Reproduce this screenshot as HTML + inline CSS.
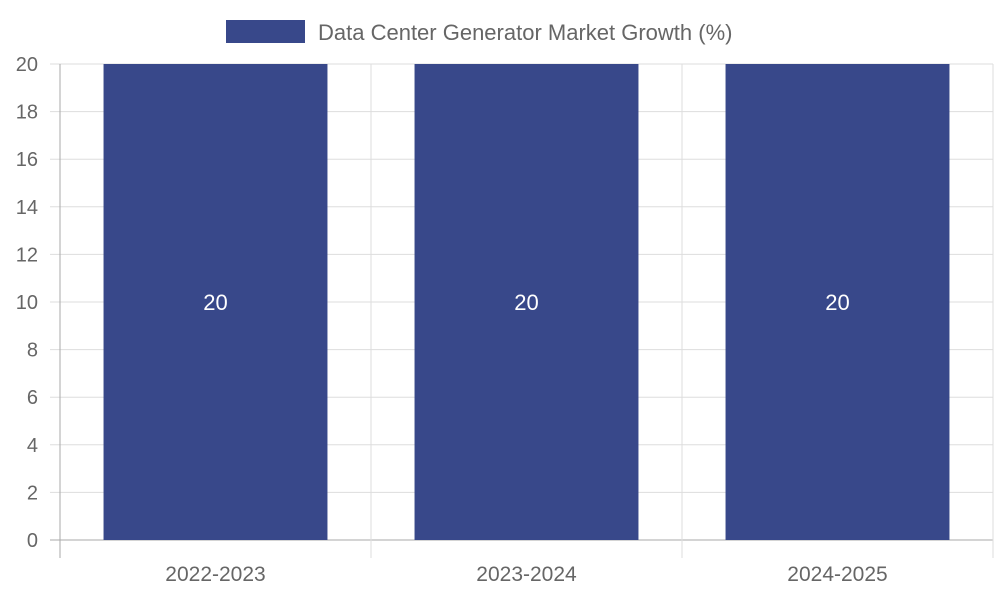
<!DOCTYPE html>
<html><head><meta charset="utf-8"><style>
html,body{margin:0;padding:0;background:#fff;}
svg{display:block;font-family:"Liberation Sans",Arial,sans-serif;}
</style></head><body>
<svg id="chart" width="1000" height="600">
<rect x="226" y="20" width="79" height="23" fill="#38488a"/>
<text x="318" y="40" font-size="22" fill="#666">Data Center Generator Market Growth (%)</text>
<g id="grid"></g><g id="bars"></g><g id="labels"></g>
</svg>
<script>
const categories = ["2022-2023","2023-2024","2024-2025"];
const values = [20,20,20];
const yTicks = [0,2,4,6,8,10,12,14,16,18,20];
const NS="http://www.w3.org/2000/svg";
const L=60,R=993,T=64,B=540,yMax=20;
const band=(R-L)/categories.length;
function y(v){return B-(v/yMax)*(B-T);}
function x(i){return L+band*i;}
function mk(tag,attrs,parent,txt){const e=document.createElementNS(NS,tag);for(const k in attrs)e.setAttribute(k,attrs[k]);if(txt!==undefined)e.textContent=txt;parent.appendChild(e);return e;}
const grid=document.getElementById('grid'),bars=document.getElementById('bars'),labels=document.getElementById('labels');
yTicks.forEach(t=>{
  const ln=mk('line',{x1:L-10,x2:R,y1:y(t),y2:y(t),stroke:t===0?'#aaa':'#ddd','stroke-width':1},grid);
  
  
  const tx=mk('text',{x:38,y:y(t)+7,'text-anchor':'end','font-size':20,fill:'#666'},grid,String(t));
  
  
});
for(let i=0;i<=categories.length;i++){
  const ln=mk('line',{x1:x(i),x2:x(i),y1:T,y2:B+18,stroke:i===0?'#aaa':'#ddd','stroke-width':1},grid);
  
  
}
categories.forEach((c,i)=>{
  const bw=band*0.72,bx=x(i)+(band-bw)/2;
  const r=mk('rect',{x:bx,y:y(values[i]),width:bw,height:B-y(values[i]),fill:'#38488a'},bars);
  
  
  const v=mk('text',{x:bx+bw/2,y:(y(values[i])+B)/2+8,'text-anchor':'middle','font-size':22,fill:'#fff'},labels,String(values[i]));
  
  
  const cl=mk('text',{x:x(i)+band/2,y:581,'text-anchor':'middle','font-size':21,fill:'#666'},labels,c);
  
  
});
</script>
</body></html>
